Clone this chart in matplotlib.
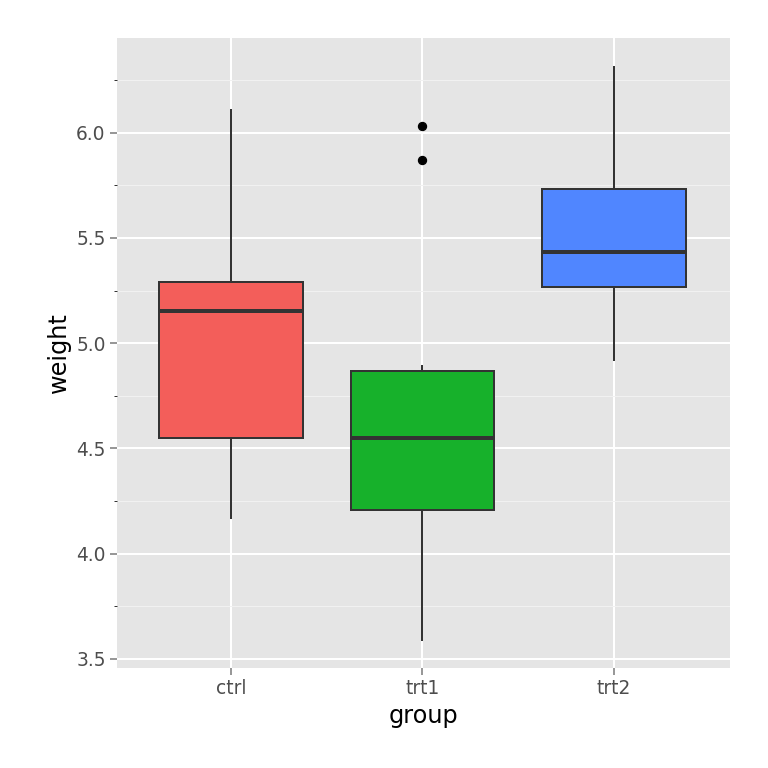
import matplotlib
matplotlib.use("Agg")
import matplotlib.pyplot as plt

GROUPS = ["ctrl", "trt1", "trt2"]
CTRL = [4.17, 5.58, 5.18, 6.11, 4.50, 4.61, 5.17, 4.53, 5.33, 5.14]
TRT1 = [4.81, 4.17, 4.41, 3.59, 5.87, 3.83, 6.03, 4.89, 4.32, 4.69]
TRT2 = [6.31, 5.12, 5.54, 5.50, 5.37, 5.29, 4.92, 6.15, 5.80, 5.26]
COLORS = ["#F35E5A", "#17B12B", "#5086FF"]
Y_TICKS = [3.5, 4.0, 4.5, 5.0, 5.5, 6.0]

fig = plt.figure(figsize=(8, 8), dpi=96)
ax = fig.add_axes([117 / 768, 1 - 668 / 768, 613 / 768, 630 / 768])
ax.set_facecolor("#E5E5E5")

ax.set_yticks(Y_TICKS)
ax.set_yticks([3.75, 4.25, 4.75, 5.25, 5.75, 6.25], minor=True)
ax.grid(True, which="major", color="white", linewidth=1.5)
ax.grid(True, which="minor", axis="y", color="#F2F2F2", linewidth=0.7)
ax.set_axisbelow(True)

bp = ax.boxplot([CTRL, TRT1, TRT2], positions=[1, 2, 3], widths=0.75,
                patch_artist=True, whis=1.5,
                medianprops=dict(color="#333333", linewidth=3),
                boxprops=dict(color="#333333", linewidth=1.5),
                whiskerprops=dict(color="#333333", linewidth=1.5),
                capprops=dict(linewidth=0),
                flierprops=dict(marker="o", markerfacecolor="black",
                                markeredgecolor="black", markersize=6))
for patch, c in zip(bp["boxes"], COLORS):
    patch.set_facecolor(c)

ax.set_xticks([1, 2, 3])
ax.set_xticklabels(GROUPS)
ax.set_xlim(0.405, 3.606)
ax.set_ylim(3.457, 6.45)
for s in ax.spines.values():
    s.set_visible(False)
ax.tick_params(colors="#7F7F7F", labelsize=14, length=5, width=1.2)
for lbl in ax.get_xticklabels() + ax.get_yticklabels():
    lbl.set_color("#4D4D4D")
ax.set_xlabel("group", fontsize=18)
ax.set_ylabel("weight", fontsize=18)

fig.savefig("out.png", dpi=96)
